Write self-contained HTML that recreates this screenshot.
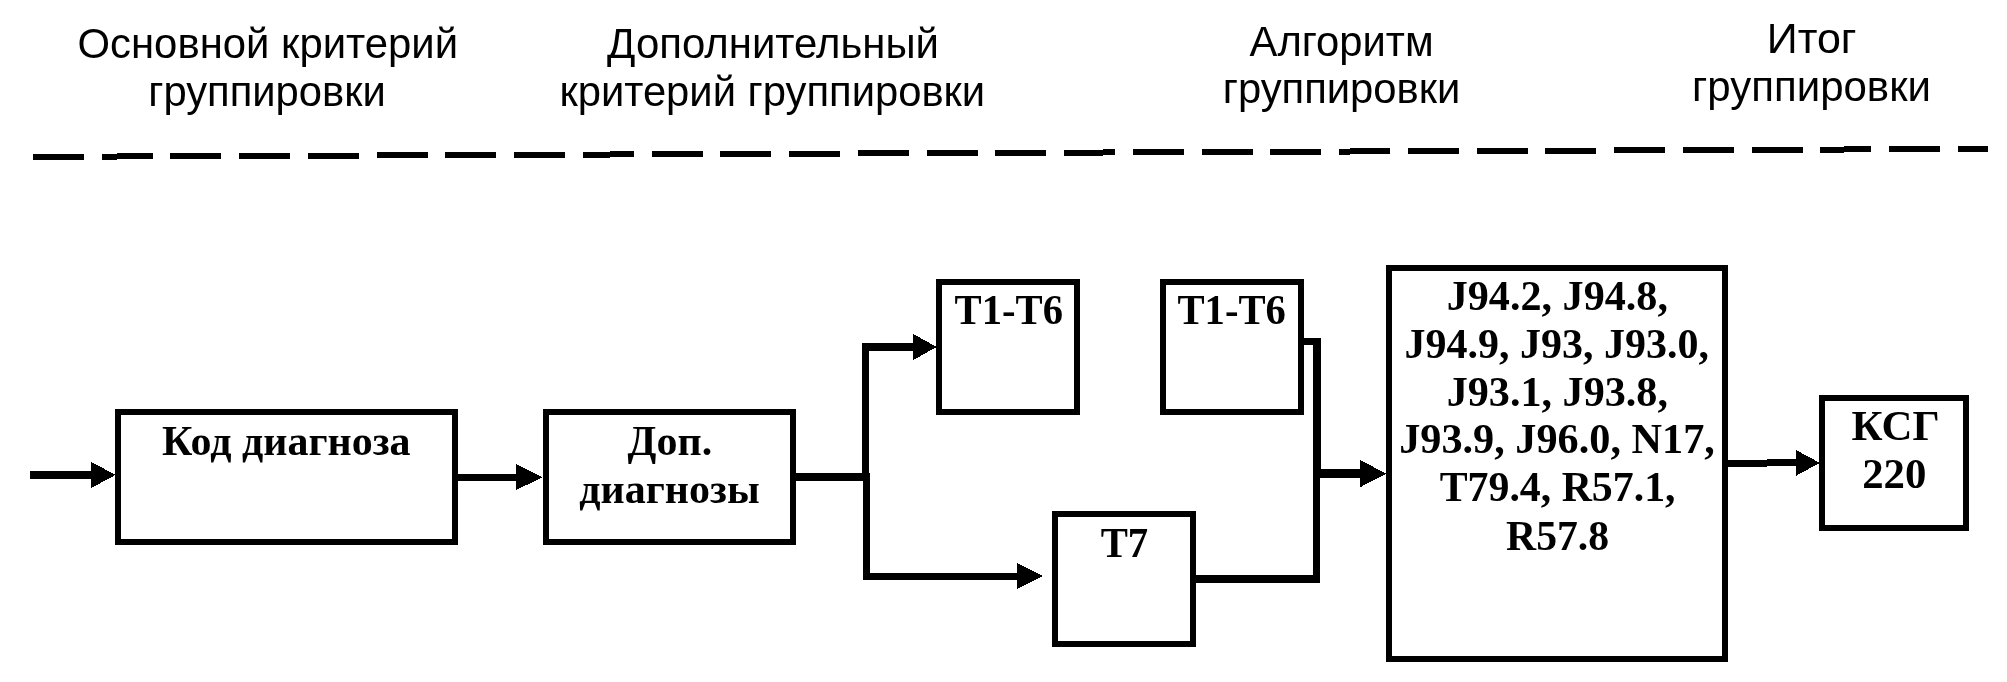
<!DOCTYPE html>
<html lang="ru">
<head>
<meta charset="utf-8">
<title>Алгоритм группировки</title>
<style>
html,body{margin:0;padding:0;background:#fff;}
body{width:2007px;height:682px;overflow:hidden;}
svg{display:block;will-change:transform;filter:grayscale(1);}
.sans{font-family:"Liberation Sans",Arial,sans-serif;font-weight:normal;}
.serif{font-family:"Liberation Serif","Times New Roman",serif;font-weight:bold;}
text{fill:#000;text-anchor:middle;}
</style>
</head>
<body>
<svg width="2007" height="682" viewBox="0 0 2007 682">
<rect x="0" y="0" width="2007" height="682" fill="#fff"/>
<!-- dashed separator -->
<g fill="#000" shape-rendering="crispEdges">
<rect x="32.80" y="154" width="51.10" height="6"/>
<rect x="101.55" y="154" width="15.05" height="6"/>
<rect x="116.60" y="153" width="36.05" height="6"/>
<rect x="170.30" y="153" width="51.10" height="6"/>
<rect x="239.05" y="153" width="51.10" height="6"/>
<rect x="307.80" y="153" width="51.10" height="6"/>
<rect x="376.55" y="152" width="51.10" height="6"/>
<rect x="445.30" y="152" width="51.10" height="6"/>
<rect x="514.05" y="152" width="51.10" height="6"/>
<rect x="582.80" y="152" width="27.20" height="6"/>
<rect x="610.00" y="151" width="23.90" height="6"/>
<rect x="651.55" y="151" width="51.10" height="6"/>
<rect x="720.30" y="151" width="51.10" height="6"/>
<rect x="789.05" y="151" width="51.10" height="6"/>
<rect x="857.80" y="150" width="51.10" height="6"/>
<rect x="926.55" y="150" width="51.10" height="6"/>
<rect x="995.30" y="150" width="51.10" height="6"/>
<rect x="1064.05" y="150" width="39.35" height="6"/>
<rect x="1103.40" y="149" width="11.75" height="6"/>
<rect x="1132.80" y="149" width="51.10" height="6"/>
<rect x="1201.55" y="149" width="51.10" height="6"/>
<rect x="1270.30" y="149" width="51.10" height="6"/>
<rect x="1339.05" y="149" width="11.05" height="6"/>
<rect x="1350.10" y="148" width="40.05" height="6"/>
<rect x="1407.80" y="148" width="51.10" height="6"/>
<rect x="1476.55" y="148" width="51.10" height="6"/>
<rect x="1545.30" y="148" width="51.10" height="6"/>
<rect x="1614.05" y="147" width="51.10" height="6"/>
<rect x="1682.80" y="147" width="51.10" height="6"/>
<rect x="1751.55" y="147" width="51.10" height="6"/>
<rect x="1820.30" y="147" width="23.30" height="6"/>
<rect x="1843.60" y="146" width="27.80" height="6"/>
<rect x="1889.05" y="146" width="51.10" height="6"/>
<rect x="1957.80" y="146" width="30.20" height="6"/>
</g>
<!-- boxes -->
<g>
<rect x="118.00" y="412.00" width="337.00" height="130.00" fill="#fff" stroke="#000" stroke-width="6"/>
<rect x="546.00" y="412.00" width="247.00" height="130.00" fill="#fff" stroke="#000" stroke-width="6"/>
<rect x="939.00" y="282.00" width="138.00" height="130.00" fill="#fff" stroke="#000" stroke-width="6"/>
<rect x="1163.00" y="282.00" width="138.00" height="130.00" fill="#fff" stroke="#000" stroke-width="6"/>
<rect x="1055.00" y="514.00" width="138.00" height="130.00" fill="#fff" stroke="#000" stroke-width="6"/>
<rect x="1389.00" y="268.00" width="336.00" height="391.00" fill="#fff" stroke="#000" stroke-width="6"/>
<rect x="1822.00" y="398.00" width="144.00" height="130.00" fill="#fff" stroke="#000" stroke-width="6"/>
</g>
<!-- connectors and arrow heads -->
<g fill="#000" shape-rendering="crispEdges">
<rect x="30.00" y="471.00" width="62.00" height="7.50"/>
<polygon points="91.20,461.80 91.20,488.00 115.50,474.90"/>
<rect x="457.00" y="474.20" width="60.00" height="6.80"/>
<polygon points="516.00,464.00 516.00,490.20 542.50,477.10"/>
<rect x="795.00" y="473.00" width="75.00" height="8.00"/>
<rect x="862.00" y="343.00" width="7.00" height="134.00"/>
<rect x="863.00" y="473.00" width="7.00" height="107.00"/>
<rect x="862.00" y="343.00" width="52.00" height="8.00"/>
<polygon points="912.90,333.80 912.90,360.20 936.60,347.00"/>
<rect x="863.00" y="573.00" width="155.00" height="7.00"/>
<polygon points="1017.00,563.00 1017.00,589.20 1043.10,576.10"/>
<rect x="1303.00" y="338.00" width="18.00" height="7.00"/>
<rect x="1313.00" y="338.00" width="8.00" height="132.00"/>
<rect x="1313.00" y="470.00" width="7.00" height="113.00"/>
<rect x="1195.00" y="575.00" width="125.00" height="8.00"/>
<rect x="1313.00" y="469.00" width="48.00" height="9.00"/>
<polygon points="1360.00,460.00 1360.00,487.30 1386.30,473.65"/>
<rect x="1727.00" y="460.00" width="40.00" height="6.50"/>
<rect x="1767.00" y="459.30" width="29.00" height="6.50"/>
<polygon points="1795.60,449.80 1795.60,476.00 1819.80,462.90"/>
</g>
<!-- labels -->
<g>
<text id="t0" class="sans" transform="translate(267.80 57.90) scale(1.003 1.03)" font-size="41.75">Основной критерий</text>
<text id="t1" class="sans" transform="translate(267.00 106.00) scale(1 1.0)" font-size="41.75">группировки</text>
<text id="t2" class="sans" transform="translate(773.00 57.80) scale(1.004 1.03)" font-size="41.75">Дополнительный</text>
<text id="t3" class="sans" transform="translate(772.30 105.90) scale(1 1.0)" font-size="41.75">критерий группировки</text>
<text id="t4" class="sans" transform="translate(1341.60 56.10) scale(1 1.03)" font-size="41.75">Алгоритм</text>
<text id="t5" class="sans" transform="translate(1341.50 103.00) scale(1 1.0)" font-size="41.75">группировки</text>
<text id="t6" class="sans" transform="translate(1811.70 53.00) scale(1.03 1.03)" font-size="41.75">Итог</text>
<text id="t7" class="sans" transform="translate(1811.50 100.90) scale(1.006 1.0)" font-size="41.75">группировки</text>
<text id="t8" class="serif" transform="translate(286.30 455.30) scale(1 1.01)" font-size="42">Код диагноза</text>
<text id="t9" class="serif" transform="translate(669.90 455.30) scale(1 1.01)" font-size="42">Доп.</text>
<text id="t10" class="serif" transform="translate(669.50 503.40) scale(1 1.01)" font-size="42">диагнозы</text>
<text id="t11" class="serif" transform="translate(1008.80 324.20) scale(0.968 1.01)" font-size="42">T1-T6</text>
<text id="t12" class="serif" transform="translate(1231.70 324.20) scale(0.968 1.01)" font-size="42">T1-T6</text>
<text id="t13" class="serif" transform="translate(1124.40 557.00) scale(0.97 1.01)" font-size="42">T7</text>
<text id="t14" class="serif" transform="translate(1557.30 309.80) scale(1.004 1.01)" font-size="42">J94.2, J94.8,</text>
<text id="t15" class="serif" transform="translate(1556.70 357.70) scale(1 1.01)" font-size="42">J94.9, J93, J93.0,</text>
<text id="t16" class="serif" transform="translate(1557.30 405.80) scale(1.004 1.01)" font-size="42">J93.1, J93.8,</text>
<text id="t17" class="serif" transform="translate(1557.00 453.10) scale(1.006 1.01)" font-size="42">J93.9, J96.0, N17,</text>
<text id="t18" class="serif" transform="translate(1557.60 501.00) scale(0.996 1.01)" font-size="42">T79.4, R57.1,</text>
<text id="t19" class="serif" transform="translate(1557.60 549.50) scale(0.992 1.01)" font-size="42">R57.8</text>
<text id="t20" class="serif" transform="translate(1895.60 440.30) scale(1.02 1.01)" font-size="42">КСГ</text>
<text id="t21" class="serif" transform="translate(1894.30 488.20) scale(1.02 1.01)" font-size="42">220</text>
</g>
</svg>
</body>
</html>
